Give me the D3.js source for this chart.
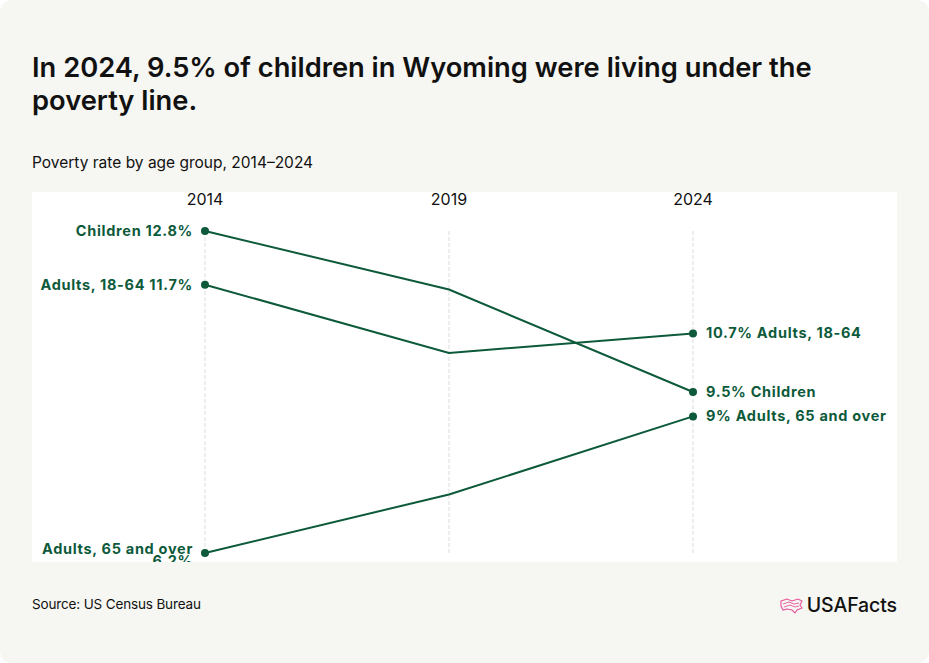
<!DOCTYPE html>
<html>
<head>
<meta charset="utf-8">
<script src="https://cdn.jsdelivr.net/npm/d3@7"></script>
<style>
  body { margin: 0; background: #ffffff; }
  svg { display: block; font-family: Inter, "Noto Sans", sans-serif; }
</style>
</head>
<body>
<svg id="chart" width="929" height="663"></svg>
<script>
// data
const years = [2014, 2019, 2024];
const groups = ["Children", "Adults, 18-64", "Adults, 65 and over"];
const children = [12.8, 11.6, 9.5];
const adults1864 = [11.7, 10.3, 10.7];
const adults65 = [6.2, 7.4, 9.0];

const title = ["In 2024, 9.5% of children in Wyoming were living under the", "poverty line."];
const subtitle = "Poverty rate by age group, 2014\u20132024";
const source = "Source: US Census Bureau";

const green = "#0d5a3b";
const series = [children, adults1864, adults65].map((vals, i) => ({
  name: groups[i],
  values: vals.map((v, j) => ({ year: years[j], value: v }))
}));

const svg = d3.select("#chart");

// card
svg.append("rect")
  .attr("x", 0).attr("y", 0)
  .attr("width", 929).attr("height", 663)
  .attr("rx", 12)
  .attr("fill", "#f6f6f2");

// title + subtitle
svg.append("text")
  .attr("x", 32).attr("y", 77)
  .style("font-size", "27.3px")
  .style("font-weight", 600)
  .style("fill", "#111")
  .selectAll("tspan")
  .data(title)
  .enter().append("tspan")
  .attr("x", 32)
  .attr("dy", (d, i) => i === 0 ? 0 : 33)
  .text(d => d);

svg.append("text")
  .attr("x", 32).attr("y", 168)
  .style("font-size", "15.5px")
  .style("fill", "#111")
  .text(subtitle);

// plot area (nested svg clips the overflowing labels like the original)
const plotX = 32, plotY = 192, plotW = 865, plotH = 370;
const plot = svg.append("svg")
  .attr("x", plotX).attr("y", plotY)
  .attr("width", plotW).attr("height", plotH);

plot.append("rect")
  .attr("width", plotW).attr("height", plotH)
  .attr("fill", "#fff");

const x = d3.scalePoint()
  .domain(years)
  .range([173, 661]);

const y = d3.scaleLinear()
  .domain([d3.min(series, s => d3.min(s.values, d => d.value)),
           d3.max(series, s => d3.max(s.values, d => d.value))])
  .range([361, 39]);

// year labels on top
plot.append("g")
  .selectAll("text")
  .data(years)
  .enter().append("text")
  .attr("x", d => x(d))
  .attr("y", 13)
  .attr("text-anchor", "middle")
  .style("font-size", "16px")
  .style("fill", "#111")
  .text(d => d);

// dashed grid
plot.append("g")
  .selectAll("line")
  .data(years)
  .enter().append("line")
  .attr("x1", d => x(d)).attr("x2", d => x(d))
  .attr("y1", y.range()[1]).attr("y2", y.range()[0])
  .attr("stroke", "#dcdcdc")
  .attr("stroke-width", 1)
  .attr("stroke-dasharray", "4,2");

const line = d3.line()
  .x(d => x(d.year))
  .y(d => y(d.value));

plot.append("g")
  .selectAll("path")
  .data(series)
  .enter().append("path")
  .attr("fill", "none")
  .attr("stroke", green)
  .attr("stroke-width", 2)
  .attr("d", d => line(d.values));

// dots only at the ends
const ends = [];
series.forEach(s => {
  ends.push({ s, d: s.values[0], side: "left" });
  ends.push({ s, d: s.values[s.values.length - 1], side: "right" });
});

plot.append("g")
  .selectAll("circle")
  .data(ends)
  .enter().append("circle")
  .attr("cx", e => x(e.d.year))
  .attr("cy", e => y(e.d.value))
  .attr("r", 4)
  .attr("fill", green);

function fmt(v) {
  return d3.format(".1~f")(v) + "%";
}

// labels (left side wraps to the space before the first column)
const maxW = 161;
ends.forEach(e => {
  const cx = x(e.d.year), cy = y(e.d.value);
  const txt = e.side === "left"
    ? e.s.name + " " + fmt(e.d.value)
    : fmt(e.d.value) + " " + e.s.name;
  const t = plot.append("text")
    .attr("text-anchor", e.side === "left" ? "end" : "start")
    .style("font-size", "14.5px")
    .style("font-weight", 700)
    .style("letter-spacing", "0.7px")
    .style("fill", green);
  const tx = e.side === "left" ? cx - 12 : cx + 13;

  let lines = [txt];
  if (e.side === "left") {
    const words = txt.split(" ");
    lines = [];
    let cur = [];
    const probe = t.append("tspan");
    words.forEach(w => {
      probe.text(cur.concat(w).join(" "));
      if (probe.node().getComputedTextLength() > maxW && cur.length) {
        lines.push(cur.join(" "));
        cur = [w];
      } else {
        cur.push(w);
      }
    });
    lines.push(cur.join(" "));
    probe.remove();
  }

  const lh = 12;
  t.selectAll("tspan")
    .data(lines)
    .enter().append("tspan")
    .attr("x", tx)
    .attr("y", (d, i) => cy + 5 - (lines.length - 1) * 4 + i * lh)
    .text(d => d);
});

// footer
svg.append("text")
  .attr("x", 32).attr("y", 609)
  .style("font-size", "13.5px")
  .style("letter-spacing", "-0.15px")
  .style("fill", "#111")
  .text(source);

// logo: small outlined map mark + wordmark
const logo = svg.append("g").attr("transform", "translate(780,598)");
logo.append("path")
  .attr("d", "M1,3 L7,1 L12,3 L18,1 L22,3 L20,7 L22,10 L17,12 L15,15 L12,12 L7,11 L3,12 L1,8 Z")
  .attr("fill", "none")
  .attr("stroke", "#e8559a")
  .attr("stroke-width", 1.1);
logo.append("path")
  .attr("d", "M3,6 L9,4 L14,6 L19,5 M4,9 L10,7 L15,9 L19,8")
  .attr("fill", "none")
  .attr("stroke", "#e8559a")
  .attr("stroke-width", 0.9);

svg.append("text")
  .attr("x", 897).attr("y", 612)
  .attr("text-anchor", "end")
  .style("font-size", "19.5px")
  .style("font-weight", 500)
  .style("letter-spacing", "-0.1px")
  .style("fill", "#111")
  .text("USAFacts");
</script>
</body>
</html>
